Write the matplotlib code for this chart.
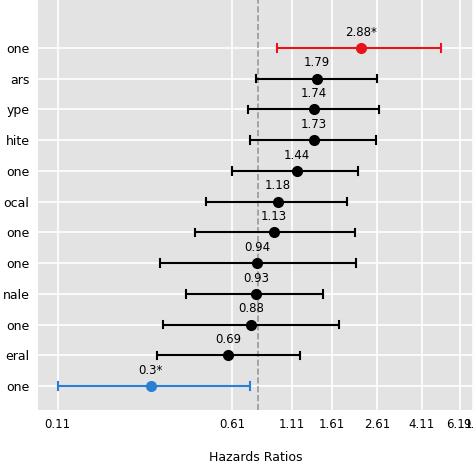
import numpy as np
import matplotlib.pyplot as plt

labels = ["one", "ars", "ype", "hite", "one", "ocal", "one", "one", "nale", "one", "eral", "one"]
hr = [2.88, 1.79, 1.74, 1.73, 1.44, 1.18, 1.13, 0.94, 0.93, 0.88, 0.69, 0.30]
lo = [1.17, 0.93, 0.85, 0.87, 0.72, 0.54, 0.48, 0.33, 0.44, 0.34, 0.32, 0.11]
hi = [6.78, 3.41, 3.48, 3.37, 2.78, 2.47, 2.69, 2.72, 1.91, 2.26, 1.50, 0.87]
ann = ["2.88*", "1.79", "1.74", "1.73", "1.44", "1.18", "1.13", "0.94", "0.93", "0.88", "0.69", "0.3*"]
tick_pos = [0.11, 0.717, 1.37, 2.10, 3.41, 5.53, 8.3, 9.6]
tick_lab = ["0.11", "0.61", "1.11", "1.61", "2.61", "4.11", "6.11", "9.1"]

fig = plt.figure(figsize=(4.74, 4.74), dpi=100)
ax = fig.add_axes([0.08, 0.135, 0.92, 0.865])
ax.set_facecolor("#e3e3e3")
ax.set_xscale("log")

y = np.arange(len(hr))[::-1]
for i in range(len(hr)):
    c = "#e8141b" if i == 0 else ("#2a7fd4" if i == len(hr) - 1 else "black")
    ax.plot([lo[i], hi[i]], [y[i], y[i]], color=c, lw=1.5, zorder=3)
    for e in (lo[i], hi[i]):
        ax.plot([e, e], [y[i] - 0.12, y[i] + 0.12], color=c, lw=1.5, zorder=3)
    ax.plot(hr[i], y[i], "o", color=c, ms=7, zorder=4)
    ax.text(hr[i], y[i] + 0.3, ann[i], ha="center", va="bottom", fontsize=8.5)

ax.axvline(0.95, color="#999999", ls="--", lw=1.2, zorder=2)
ax.set_xlim(0.089, 9.7)
ax.set_ylim(-0.78, 12.56)
ax.set_xticks(tick_pos)
ax.set_xticklabels(tick_lab, fontsize=8.5)
ax.minorticks_off()
ax.set_yticks(y)
ax.set_yticklabels(labels, fontsize=9)
ax.grid(True, color="white", lw=1.2, zorder=0)
ax.set_axisbelow(True)
ax.tick_params(length=0, pad=6)
for s in ax.spines.values():
    s.set_visible(False)
ax.set_xlabel("Hazards Ratios", fontsize=9, labelpad=14)
fig.savefig("out.png", dpi=100)
